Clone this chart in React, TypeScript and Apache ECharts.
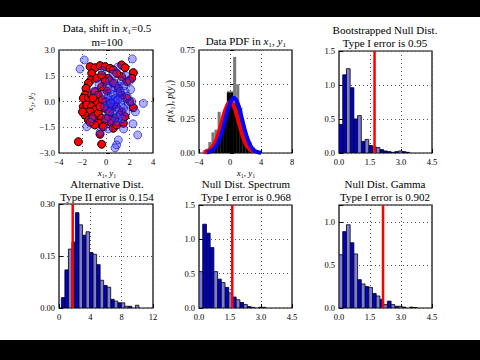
import React, { useEffect, useRef } from 'react';
import * as echarts from 'echarts';

const FONT = '"Liberation Serif", "DejaVu Serif", serif';

// ---------- tick definitions ----------
const scatterXTicks = [-4, -2, 0, 2, 4];
const scatterXLabels = ['−4', '−2', '0', '2', '4'];
const scatterYTicks = [-3, -1.5, 0, 1.5, 3];
const scatterYLabels = ['−3.0', '−1.5', '0.0', '1.5', '3.0'];
const pdfXTicks = [-4, 0, 4, 8];
const pdfXLabels = ['−4', '0', '4', '8'];
const pdfYTicks = [0, 0.25, 0.5, 0.75];
const pdfYLabels = ['0.00', '0.25', '0.50', '0.75'];
const nullXTicks = [0, 1.5, 3, 4.5];
const nullXLabels = ['0.0', '1.5', '3.0', '4.5'];
const nullYTicks = [0, 0.5, 1, 1.5];
const nullYLabels = ['0.0', '0.5', '1.0', '1.5'];
const altXTicks = [0, 4, 8, 12];
const altXLabels = ['0', '4', '8', '12'];
const altYTicks = [0, 0.15, 0.3];
const altYLabels = ['0.00', '0.15', '0.30'];

// ---------- scatter data ----------
const redPoints = [
  [-1.36, 2.03], [-0.94, 1.97], [-0.51, 2.09], [-0.08, 2.03], [0.34, 1.93], [0.62, 1.84], [1.33, 2.13], [1.62, 1.97],
  [2.33, 1.68], [2.19, 1.35], [1.76, 1.16], [1.33, 1.45], [0.91, 1.64], [-1.22, 1.64], [-1.28, 1.25], [-0.79, 1.35],
  [-0.37, 1.54], [-1.5, 1.06], [-1.7, 0.77], [-1.79, 0.38], [-1.93, 0.19], [-1.5, 0.19], [-1.22, 0.38], [-0.94, 0.57],
  [-0.65, 0.38], [-0.79, -0.01], [-1.93, -0.3], [-1.64, -0.2], [-1.22, -0.3], [-0.94, -0.49], [-1.36, -0.59], [-1.79, -0.79],
  [-1.5, -1.08], [-1.08, -0.88], [-0.65, -0.69], [-0.37, -0.98], [-0.08, -1.17], [0.2, -0.88], [0.48, -1.27], [-0.65, -1.27],
  [-0.94, -1.37], [-0.23, -1.47], [0.62, -1.56], [0.91, -1.37], [1.48, -1.27], [2.33, -0.36], [2.04, -0.01], [1.76, 0.19],
  [1.33, 0.38], [1.05, 0.77], [0.62, 1.06], [0.2, 1.35], [-0.08, 1.16], [-0.37, 0.86], [-2.35, -2.34], [-0.37, -2.49],
  [-0.51, -1.91], [-1.36, -1.21], [-0.08, -0.4], [0.34, -0.59], [1.33, -0.59], [1.62, -0.88], [0.77, -0.98], [0.34, -0.11],
  [-2.0, -0.6], [-1.1, 0.2], [-0.3, 0.1], [0.1, 0.6], [-0.5, -0.3], [0.8, -0.2],
];
const bluePoints = [
  [-1.85, 2.42], [-2.21, 1.89], [2.24, 2.48], [3.18, -0.11], [2.7, -1.95], [1.05, -2.24], [0.9, -2.53], [0.77, -2.7],
  [-1.64, -1.47], [1.7, 1.5], [2.0, 1.2], [1.0, 2.0], [0.6, 1.6], [-0.3, 1.8], [2.5, -0.6], [2.3, -1.3],
  [1.5, -1.6], [0.2, -1.6], [-0.5, -1.8], [-1.2, -1.0], [-1.0, 0.6], [-0.6, 1.0],
  [0.2, 0.3], [0.4, 0.1], [0.6, 0.4], [0.8, 0.2], [1.0, 0.5], [1.2, 0.3], [1.4, 0.1], [0.3, -0.2],
  [0.5, -0.4], [0.7, -0.1], [0.9, -0.3], [1.1, -0.5], [1.3, -0.2], [1.5, -0.4], [0.0, 0.0], [0.2, -0.6],
  [0.6, -0.7], [0.9, -0.9], [1.2, -0.8], [0.4, 0.7], [0.8, 0.8], [1.1, 0.9], [1.6, 0.6], [1.8, 0.3],
  [1.9, -0.1], [1.7, -0.6], [0.1, 0.9], [-0.2, 0.4], [-0.1, -0.3], [0.3, 1.2], [0.7, 1.1], [1.3, 1.2],
  [1.5, 0.9], [2.1, 0.7], [2.2, 0.0], [0.5, -1.1], [0.0, -1.0], [1.0, -1.2], [1.4, -1.0], [0.8, 0.0],
  [0.6, 0.1], [1.0, 0.1], [0.4, -0.1], [1.2, 0.6],
];

// ---------- PDF panel ----------
const pdfBinWidth = 0.4;
const pdfGrey = [
  [-3.6, 0.01], [-3.2, 0.03], [-2.8, 0.08], [-2.4, 0.15], [-2.0, 0.17], [-1.6, 0.3], [-1.2, 0.22], [-0.8, 0.3],
  [-0.4, 0.45], [0.0, 0.45], [0.4, 0.7], [0.8, 0.5], [1.2, 0.33], [1.6, 0.2], [2.0, 0.12], [2.4, 0.08],
  [2.8, 0.04], [3.2, 0.02], [3.6, 0.01],
];
const pdfBlack = [
  [-2.8, 0.03], [-2.4, 0.05], [-2.0, 0.08], [-1.6, 0.12], [-1.2, 0.2], [-0.8, 0.28], [-0.4, 0.44], [0.0, 0.44],
  [0.4, 0.36], [0.8, 0.36], [1.2, 0.26], [1.6, 0.15], [2.0, 0.08], [2.4, 0.04], [2.8, 0.02],
];
const pdfRed = [
  [-3.4, 0.005], [-3.0, 0.012], [-2.5, 0.03], [-2.0, 0.07], [-1.5, 0.14], [-1.0, 0.24], [-0.5, 0.33], [0.0, 0.37],
  [0.5, 0.34], [1.0, 0.25], [1.5, 0.15], [2.0, 0.07], [2.5, 0.03], [3.0, 0.01],
];
const pdfBlue = [
  [-3.0, 0.004], [-2.5, 0.012], [-2.0, 0.035], [-1.5, 0.08], [-1.0, 0.16], [-0.5, 0.27], [0.0, 0.36], [0.5, 0.4],
  [1.0, 0.36], [1.5, 0.26], [2.0, 0.15], [2.5, 0.07], [3.0, 0.025], [3.5, 0.008], [4.0, 0.002],
];

// ---------- histograms: [binStart, height] ----------
const nullBinWidth = 0.18;
const bootDark = [[0.0, 0.42], [0.18, 1.15], [0.54, 0.96], [0.72, 0.5], [1.08, 0.17], [1.44, 0.11], [1.98, 0.05], [2.16, 0.03], [2.34, 0.02], [2.7, 0.02], [3.06, 0.02], [3.24, 0.01]];
const bootLight = [[0.36, 1.24], [0.9, 0.55], [1.26, 0.2], [1.62, 0.09], [1.8, 0.08], [2.52, 0.01], [2.88, 0.03]];
const bootThreshold = 1.72;

const altBinWidth = 0.45;
const altDark = [[0.3, 0.03], [0.75, 0.11], [1.65, 0.19], [2.1, 0.275], [3.0, 0.21], [3.9, 0.16], [4.8, 0.125], [5.7, 0.065], [6.6, 0.025], [7.5, 0.015], [8.85, 0.005]];
const altLight = [[1.2, 0.17], [2.55, 0.24], [3.45, 0.22], [4.35, 0.155], [5.25, 0.08], [6.15, 0.06], [7.05, 0.02], [7.95, 0.015], [8.4, 0.005], [9.75, 0.008]];
const altThreshold = 1.75;

const specDark = [[0.18, 1.22], [0.36, 1.09], [0.54, 0.88], [0.9, 0.42], [1.26, 0.3], [1.62, 0.16], [1.98, 0.08], [2.34, 0.02], [2.88, 0.01]];
const specLight = [[0.0, 0.53], [0.72, 0.53], [1.08, 0.37], [1.44, 0.22], [1.8, 0.12], [2.16, 0.05], [2.52, 0.01], [3.06, 0.01]];
const specThreshold = 1.61;

const gammaDark = [[0.18, 0.89], [0.54, 0.76], [0.9, 0.33], [1.26, 0.25], [1.62, 0.17], [1.98, 0.1], [2.34, 0.08], [2.7, 0.02], [3.06, 0.01], [3.42, 0.01]];
const gammaLight = [[0.0, 0.62], [0.36, 0.97], [0.72, 0.63], [1.08, 0.28], [1.44, 0.24], [1.8, 0.14], [2.16, 0.04], [2.52, 0.04], [2.88, 0.02], [3.6, 0.005]];
const gammaThreshold = 2.13;

const DARK = '#0000c8';
const LIGHT = '#7c7cd2';

const mkFmt = (ticks: number[], labels: string[]) => (v: number) => {
  const i = ticks.findIndex((t) => Math.abs(t - v) < 1e-6);
  return i >= 0 ? labels[i] : '';
};

const axisBase = (gi: number, min: number, max: number, interval: number, ticks: number[], labels: string[]) => ({
  type: 'value',
  gridIndex: gi,
  min,
  max,
  interval,
  axisLine: { show: false },
  axisTick: { show: true, inside: true, length: 4, lineStyle: { color: '#000', width: 1 } },
  splitLine: { show: true, lineStyle: { color: '#555', type: [1, 3], width: 1 } },
  axisLabel: {
    formatter: mkFmt(ticks, labels),
    color: '#000',
    fontFamily: FONT,
    fontSize: 8.5,
    margin: 4,
    showMinLabel: true,
    showMaxLabel: true,
  },
});

const hist = (data: number[][], width: number, color: string, gi: number, stroke = '#000', z = 2) => ({
  type: 'custom',
  xAxisIndex: gi,
  yAxisIndex: gi,
  clip: true,
  z,
  data: data.map((d) => [d[0], d[0] + width, d[1]]),
  encode: { x: [0, 1], y: 2 },
  renderItem: (_p: any, api: any) => {
    const a = api.coord([api.value(0), api.value(2)]);
    const b = api.coord([api.value(1), 0]);
    return {
      type: 'rect',
      shape: { x: a[0], y: a[1], width: b[0] - a[0], height: b[1] - a[1] },
      style: { fill: color, stroke, lineWidth: stroke === 'none' ? 0 : 0.8 },
    };
  },
});

const vline = (x: number, yMax: number, gi: number) => ({
  type: 'line',
  xAxisIndex: gi,
  yAxisIndex: gi,
  data: [[x, 0], [x, yMax]],
  symbol: 'none',
  z: 5,
  lineStyle: { color: '#ff0000', width: 2.5 },
});

const txt = (x: number, y: number, text: string, size = 11, rotation = 0) => ({
  type: 'text',
  x,
  y,
  rotation,
  z: 10,
  style: {
    text,
    fill: '#000',
    fontFamily: FONT,
    fontSize: size,
    align: 'center',
    verticalAlign: 'middle',
    rich: {
      i: { fontStyle: 'italic', fontFamily: FONT, fontSize: size, fill: '#000' },
    },
  },
});

export default function App() {
  const ref = useRef<HTMLDivElement>(null);
  useEffect(() => {
    if (!ref.current) return;
    const chart = echarts.init(ref.current, null, { renderer: 'svg' });
    const option: any = {
      animation: false,
      backgroundColor: '#fff',
      grid: [
        { left: 59, top: 50, width: 94, height: 103 },
        { left: 199, top: 50, width: 93, height: 103 },
        { left: 339, top: 51, width: 93, height: 102 },
        { left: 59, top: 204, width: 94, height: 104 },
        { left: 199, top: 205, width: 93, height: 103 },
        { left: 339, top: 205, width: 93, height: 103 },
      ].map((g) => ({ ...g, show: true, borderColor: '#000', borderWidth: 1.2, backgroundColor: 'transparent', containLabel: false })),
      xAxis: [
        axisBase(0, -4, 4, 2, scatterXTicks, scatterXLabels),
        axisBase(1, -4, 8, 4, pdfXTicks, pdfXLabels),
        axisBase(2, 0, 4.5, 1.5, nullXTicks, nullXLabels),
        axisBase(3, 0, 12, 4, altXTicks, altXLabels),
        axisBase(4, 0, 4.5, 1.5, nullXTicks, nullXLabels),
        axisBase(5, 0, 4.5, 1.5, nullXTicks, nullXLabels),
      ],
      yAxis: [
        axisBase(0, -3, 3, 1.5, scatterYTicks, scatterYLabels),
        axisBase(1, 0, 0.75, 0.25, pdfYTicks, pdfYLabels),
        axisBase(2, 0, 1.5, 0.5, nullYTicks, nullYLabels),
        axisBase(3, 0, 0.3, 0.15, altYTicks, altYLabels),
        axisBase(4, 0, 1.5, 0.5, nullYTicks, nullYLabels),
        axisBase(5, 0, 1.2, 0.5, nullYTicks, nullYLabels),
      ],
      series: [
        {
          type: 'scatter', xAxisIndex: 0, yAxisIndex: 0, data: redPoints, symbolSize: 8, z: 2,
          itemStyle: { color: '#ff0000', borderColor: '#000', borderWidth: 1, opacity: 1 },
        },
        {
          type: 'scatter', xAxisIndex: 0, yAxisIndex: 0, data: bluePoints, symbolSize: 8, z: 3,
          itemStyle: { color: 'rgba(60,60,255,0.4)', borderColor: 'rgba(0,0,200,0.6)', borderWidth: 1, opacity: 1 },
        },
        hist(pdfGrey, pdfBinWidth, '#7a7a7a', 1, 'none', 2),
        hist(pdfBlack, pdfBinWidth, '#000', 1, 'none', 3),
        {
          type: 'line', xAxisIndex: 1, yAxisIndex: 1, data: pdfRed, smooth: true, symbol: 'none', z: 4,
          lineStyle: { color: '#ff0000', width: 4 },
        },
        {
          type: 'line', xAxisIndex: 1, yAxisIndex: 1, data: pdfBlue, smooth: true, symbol: 'none', z: 5,
          lineStyle: { color: '#0000ff', width: 4 },
        },
        hist(bootDark, nullBinWidth, DARK, 2),
        hist(bootLight, nullBinWidth, LIGHT, 2),
        vline(bootThreshold, 1.5, 2),
        hist(altDark, altBinWidth, DARK, 3),
        hist(altLight, altBinWidth, LIGHT, 3),
        vline(altThreshold, 0.3, 3),
        hist(specDark, nullBinWidth, DARK, 4),
        hist(specLight, nullBinWidth, LIGHT, 4),
        vline(specThreshold, 1.5, 4),
        hist(gammaDark, nullBinWidth, DARK, 5),
        hist(gammaLight, nullBinWidth, LIGHT, 5),
        vline(gammaThreshold, 1.2, 5),
      ],
      graphic: [
        { type: 'rect', left: 0, top: 0, z: 20, shape: { width: 480, height: 17 }, style: { fill: '#000' } },
        { type: 'rect', left: 0, top: 340, z: 20, shape: { width: 480, height: 20 }, style: { fill: '#000' } },
        txt(107, 28, 'Data, shift in {i|x}₁=0.5'),
        txt(107, 42, 'm=100'),
        txt(246, 41, 'Data PDF in {i|x}₁, {i|y}₁'),
        txt(385, 30, 'Bootstrapped Null Dist.'),
        txt(385, 43, 'Type I error is 0.95'),
        txt(107, 184, 'Alternative Dist.'),
        txt(107, 197, 'Type II error is 0.154'),
        txt(246, 184, 'Null Dist. Spectrum'),
        txt(246, 197, 'Type I error is 0.968'),
        txt(385, 184, 'Null Dist. Gamma'),
        txt(385, 197, 'Type I error is 0.902'),
        txt(107, 173, '{i|x}₁, {i|y}₁', 9),
        txt(246, 173, '{i|x}₁, {i|y}₁', 9),
        txt(30, 102, '{i|x}₂, {i|y}₂', 9, Math.PI / 2),
        txt(170, 101, '{i|p}({i|x}₁), {i|p}({i|y}₁)', 9.5, Math.PI / 2),
      ],
    };
    chart.setOption(option);
    return () => chart.dispose();
  }, []);
  return <div ref={ref} style={{ position: 'fixed', left: 0, top: 0, width: 480, height: 360 }} />;
}
